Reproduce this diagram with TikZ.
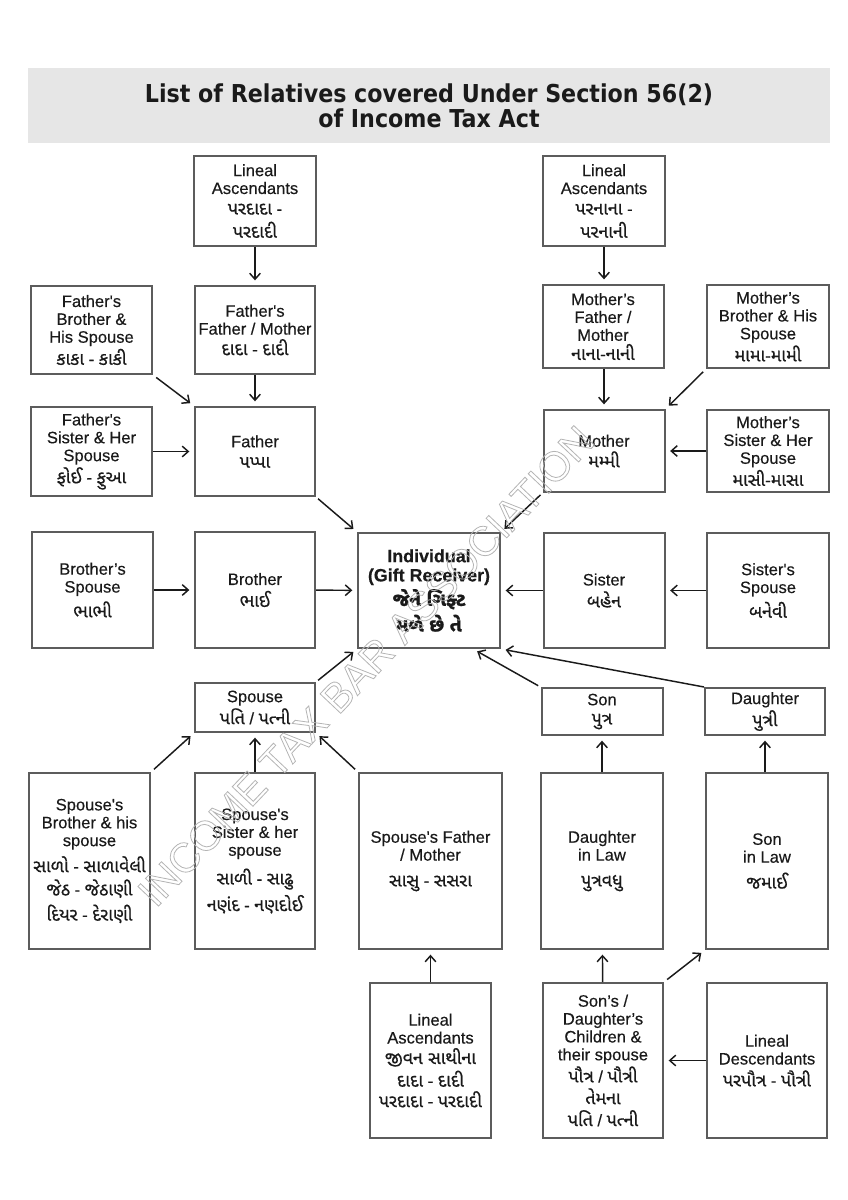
\documentclass[tikz,border=0pt]{standalone}
\usepackage{fontspec}
\setmainfont{Liberation Sans}
\newfontfamily\boxfont[FakeBold=0.35]{Liberation Sans}
\newfontfamily\gujfont[Script=Gujarati,Scale=1.08,FakeBold=0.6]{Noto Sans Gujarati UI}
\newfontfamily\gujboldfont[Script=Gujarati,Scale=1.05,FakeBold=0.8]{Noto Sans Gujarati UI}
\newfontfamily\headfont[FakeStretch=0.9]{DejaVu Sans}
\usetikzlibrary{arrows.meta}

\definecolor{bandgray}{HTML}{E6E6E6}
\definecolor{boxgray}{HTML}{5C5C5C}
\definecolor{inkgray}{HTML}{1A1A1A}
\definecolor{wmgray}{HTML}{B4B4B4}

\newcommand{\guj}[1]{{\gujfont #1}}
\newcommand{\gujb}[1]{{\gujboldfont #1}}

\tikzset{
  rel/.style={draw=boxgray, line width=1.5pt, fill=white, text=inkgray, align=center,
    inner sep=1pt, font=\boxfont\fontsize{12.4}{13.4}\selectfont},
  sz/.style 2 args={minimum width={#1*0.75pt}, minimum height={#2*0.75pt}},
  link/.style={->, line width=1.1pt, draw=inkgray, shorten >=3.5pt},
  >={Straight Barb[length=4.5pt,width=8pt]}
}

\begin{document}
\begin{tikzpicture}[x=0.75pt, y=-0.75pt]
\useasboundingbox (0,0) rectangle (848,1200);

% title band
\node[fill=bandgray, sz={802}{75}, text=inkgray, align=center,
  font=\headfont\bfseries\fontsize{18.5}{19}\selectfont] (title) at (429,105.5)
  {List of Relatives covered Under Section 56(2)\\of Income Tax Act};

% father's side
\node[rel, sz={122}{90}] (laf) at (255,201) {Lineal\\Ascendants\\[2pt]\guj{પરદાદા} -\\[4pt]\guj{પરદાદી}};
\node[rel, sz={121}{88}] (fbro) at (91.5,330) {Father's\\Brother \&\\His Spouse\\[1pt]\guj{કાકા} - \guj{કાકી}};
\node[rel, sz={120}{88}] (ffm) at (255,330) {Father's\\Father / Mother\\[2pt]\guj{દાદા} - \guj{દાદી}};
\node[rel, sz={121}{89}] (fsis) at (91.5,451.5) {Father's\\Sister \& Her\\Spouse\\[1pt]\guj{ફોઈ} - \guj{ફુઆ}};
\node[rel, sz={120}{89}] (father) at (255,451.5) {Father\\[2pt]\guj{પપ્પા}};

% mother's side
\node[rel, sz={122}{90}] (lam) at (604,201) {Lineal\\Ascendants\\[2pt]\guj{પરનાના} -\\[4pt]\guj{પરનાની}};
\node[rel, sz={121}{83}] (mfm) at (603,326.5) {Mother’s\\Father /\\Mother\\[1pt]\guj{નાના}-\guj{નાની}};
\node[rel, sz={122}{83}] (mbro) at (768,326.5) {Mother’s\\Brother \& His\\Spouse\\[1pt]\guj{મામા}-\guj{મામી}};
\node[rel, sz={121}{82}] (mother) at (604,451) {Mother\\[2pt]\guj{મમ્મી}};
\node[rel, sz={122}{82}] (msis) at (768,451) {Mother’s\\Sister \& Her\\Spouse\\[1pt]\guj{માસી}-\guj{માસા}};

% middle row
\node[rel, sz={121}{116}] (bsp) at (92.5,590) {Brother’s\\Spouse\\[3pt]\guj{ભાભી}};
\node[rel, sz={120}{116}] (brother) at (255,590) {Brother\\[3pt]\guj{ભાઈ}};
\node[rel, sz={142}{115}, font=\boxfont\bfseries\fontsize{13.4}{14.4}\selectfont] (ind) at (429,590.5)
  {Individual\\(Gift Receiver)\\[2pt]\gujb{જેને ગિફ્ટ}\\[3pt]\gujb{મળે છે તે}};
\node[rel, sz={121}{115}] (sister) at (604,590.5) {Sister\\[3pt]\guj{બહેન}};
\node[rel, sz={122}{115}] (ssp) at (768,590.5) {Sister's\\Spouse\\[3pt]\guj{બનેવી}};

% spouse and children
\node[rel, sz={120}{49}] (spouse) at (255,707.5) {Spouse\\[1pt]\guj{પતિ} / \guj{પત્ની}};
\node[rel, sz={121}{47}] (son) at (602,711.5) {Son\\[1pt]\guj{પુત્ર}};
\node[rel, sz={120}{47}] (dau) at (765,711.5) {Daughter\\[1pt]\guj{પુત્રી}};

% in-laws
\node[rel, sz={121}{176}] (spbro) at (89.5,861) {Spouse's\\Brother \& his\\spouse\\[4pt]\guj{સાળો} - \guj{સાળાવેલી}\\[4pt]\guj{જેઠ} - \guj{જેઠાણી}\\[4pt]\guj{દિયર} - \guj{દેરાણી}};
\node[rel, sz={120}{176}] (spsis) at (255,861) {Spouse's\\Sister \& her\\spouse\\[6pt]\guj{સાળી} - \guj{સાઢુ}\\[3pt]\guj{નણંદ} - \guj{નણદોઈ}};
\node[rel, sz={143}{176}] (spfm) at (430.5,861) {Spouse's Father\\/ Mother\\[6pt]\guj{સાસુ} - \guj{સસરા}};
\node[rel, sz={122}{176}] (dil) at (602,861) {Daughter\\in Law\\[6pt]\guj{પુત્રવધુ}};
\node[rel, sz={122}{176}] (sil) at (767,861) {Son\\in Law\\[6pt]\guj{જમાઈ}};

% bottom row
\node[rel, sz={121}{155}] (lab) at (430.5,1060.5) {Lineal\\Ascendants\\[2pt]\guj{જીવન સાથીના}\\[2pt]\guj{દાદા} - \guj{દાદી}\\[2pt]\guj{પરદાદા} - \guj{પરદાદી}};
\node[rel, sz={120}{155}] (sdc) at (603,1060.5) {Son’s /\\Daughter’s\\Children \&\\their spouse\\[1pt]\guj{પૌત્ર} / \guj{પૌત્રી}\\[3pt]\guj{તેમના}\\[3pt]\guj{પતિ} / \guj{પત્ની}};
\node[rel, sz={120}{155}] (ld) at (767,1060.5) {Lineal\\Descendants\\[3pt]\guj{પરપૌત્ર} - \guj{પૌત્રી}};

% connectors
\draw[link] (laf) -- (ffm);
\draw[link] (ffm) -- (father);
\draw[link, shorten <=3pt] (fbro.south east) -- (father.north west);
\draw[link] (fsis) -- (father);
\draw[link] (lam) -- (mfm.north -| lam.south);
\draw[link] (mfm.south -| mother.north) -- (mother);
\draw[link, shorten <=3pt] (mbro.south west) -- (mother.north east);
\draw[link] (msis) -- (mother);
\draw[link, shorten <=2pt] (father.south east) -- (ind.north west);
\draw[link, shorten <=2pt] (mother.south west) -- (ind.north east);
\draw[link] (bsp) -- (brother);
\draw[link] (brother) -- (ind);
\draw[link] (sister) -- (ind);
\draw[link] (ssp) -- (sister);
\draw[link, shorten <=2pt] (spouse.north east) -- (ind.south west);
\draw[link, shorten <=2pt] (son.north west) -- (ind.-53);
\draw[link] (dau.north west) -- (ind.south east);
\draw[link, shorten <=3pt] (spbro.north east) -- (spouse.south west);
\draw[link] (spsis) -- (spouse);
\draw[link, shorten <=3pt] (spfm.north west) -- (spouse.south east);
\draw[link] (dil) -- (son);
\draw[link] (sil.north -| dau.south) -- (dau);
\draw[link] (lab) -- (spfm);
\draw[link] (sdc) -- (dil);
\draw[link, shorten <=3pt] (sdc.north east) -- (sil.south west);
\draw[link] (ld) -- (sdc);

% watermark
\begin{scope}[line width=0.6pt]
\node[rotate=46.6, text=wmgray, font=\fontsize{31}{31}\selectfont] (wm) at (366,666)
  {\special{pdf:literal 1 Tr}INCOME TAX BAR ASSOCIATION\special{pdf:literal 0 Tr}};
\end{scope}
\end{tikzpicture}
\end{document}
